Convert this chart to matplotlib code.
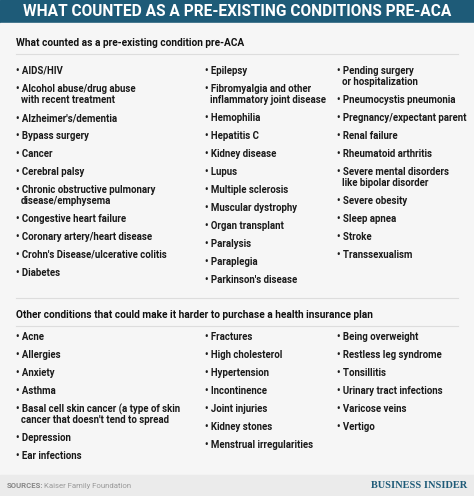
import matplotlib
matplotlib.use("Agg")
import matplotlib.pyplot as plt
from matplotlib.patches import Rectangle

W, H = 474, 496
title = "WHAT COUNTED AS A PRE-EXISTING CONDITIONS PRE-ACA"
sec1_title = "What counted as a pre-existing condition pre-ACA"
sec2_title = "Other conditions that could make it harder to purchase a health insurance plan"
sec1_cols = [
    ["AIDS/HIV", "Alcohol abuse/drug abuse\nwith recent treatment", "Alzheimer's/dementia", "Bypass surgery",
     "Cancer", "Cerebral palsy", "Chronic obstructive pulmonary\ndisease/emphysema", "Congestive heart failure",
     "Coronary artery/heart disease", "Crohn's Disease/ulcerative colitis", "Diabetes"],
    ["Epilepsy", "Fibromyalgia and other\ninflammatory joint disease", "Hemophilia", "Hepatitis C", "Kidney disease",
     "Lupus", "Multiple sclerosis", "Muscular dystrophy", "Organ transplant", "Paralysis", "Paraplegia",
     "Parkinson's disease"],
    ["Pending surgery\nor hospitalization", "Pneumocystis pneumonia", "Pregnancy/expectant parent",
     "Renal failure", "Rheumatoid arthritis", "Severe mental disorders\nlike bipolar disorder", "Severe obesity",
     "Sleep apnea", "Stroke", "Transsexualism"],
]
sec2_cols = [
    ["Acne", "Allergies", "Anxiety", "Asthma",
     "Basal cell skin cancer (a type of skin\ncancer that doesn't tend to spread", "Depression", "Ear infections"],
    ["Fractures", "High cholesterol", "Hypertension", "Incontinence", "Joint injuries", "Kidney stones",
     "Menstrual irregularities"],
    ["Being overweight", "Restless leg syndrome", "Tonsillitis", "Urinary tract infections", "Varicose veins",
     "Vertigo"],
]
source = "Kaiser Family Foundation"

fig = plt.figure(figsize=(W/100, H/100), dpi=100)
ax = fig.add_axes([0, 0, 1, 1])
ax.set_xlim(0, W); ax.set_ylim(H, 0); ax.axis("off")
FONT = "Roboto"

ax.add_patch(Rectangle((0, 0), W, 23, color="#1e5b78"))
ax.add_patch(Rectangle((0, 23), W, 452, color="#f6f6f6"))
ax.add_patch(Rectangle((0, 475), W, 21, color="#ebebeb"))
ax.text(W/2, 12, title, color="white", fontsize=11.2, fontweight="bold", family=FONT, ha="center", va="center")

def section(ytitle, text, cols, xs, ystart, gap):
    ax.text(16, ytitle, text, fontsize=7.3, fontweight="bold", family=FONT, va="center", color="#111")
    ax.plot([16, 458], [ytitle + 11, ytitle + 11], color="#dddddd", lw=0.8)
    for x, items in zip(xs, cols):
        y = ystart
        for it in items:
            lines = it.split("\n")
            for i, ln in enumerate(lines):
                ax.text(x + (0 if i == 0 else 5), y, ("• " if i == 0 else "") + ln, fontsize=6.9,
                        fontweight="bold", family=FONT, va="center", color="#1a1a1a")
                if i < len(lines) - 1:
                    y += 11
            y += gap

section(43, sec1_title, sec1_cols, [16, 205, 337], 71, 18)
ax.plot([16, 458], [298, 298], color="#dddddd", lw=0.8)
section(315, sec2_title, sec2_cols, [16, 205, 337], 337, 18)

ax.text(7, 486, "SOURCES:", fontsize=5.6, fontweight="bold", family=FONT, va="center", color="#888")
ax.text(44, 486, source, fontsize=5.6, family=FONT, va="center", color="#999")
ax.text(467, 486, "BUSINESS INSIDER", fontsize=7.5, family="Liberation Serif", fontweight="bold",
        va="center", ha="right", color="#1e5b78")
fig.savefig("out.png", dpi=100)
